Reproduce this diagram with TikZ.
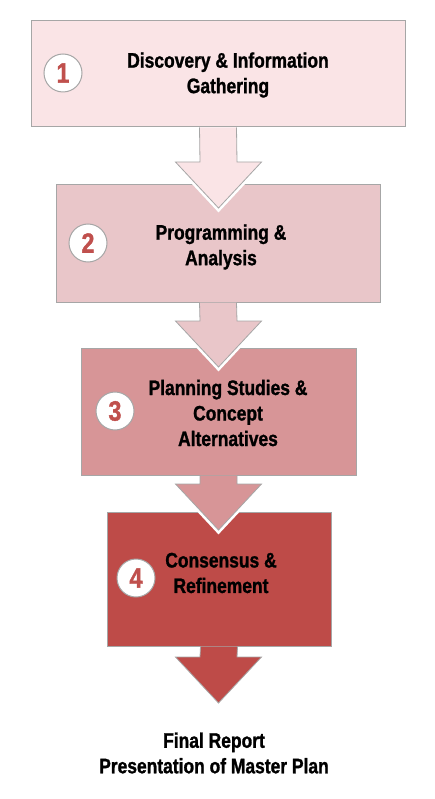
\documentclass[tikz,border=0pt]{standalone}
\usepackage{fontspec}
\setmainfont{Liberation Sans}
\newfontfamily\stepfont{Liberation Sans Bold}[FakeStretch=0.83, FakeBold=1.2]
\usetikzlibrary{calc}
\definecolor{stepone}{HTML}{FAE4E6}
\definecolor{steptwo}{HTML}{E9C6C9}
\definecolor{stepthree}{HTML}{D79597}
\definecolor{stepfour}{HTML}{BE4B48}
\definecolor{boxgray}{HTML}{A6A6A6}
\definecolor{numred}{HTML}{C0504D}
\newcommand{\blockarrow}[3]{%
  \draw[white, line width=6pt, line join=miter]
    ($(#2)+(-43,-46)$) -- (#2) -- ($(#2)+(43,-46)$);
  \path[flow, fill=#3] ($(#1.south)+(-18.5,0)$) -- ($(#2)+(-18.5,-46)$)
    -- ($(#2)+(-43,-46)$) -- (#2) -- ($(#2)+(43,-46)$)
    -- ($(#2)+(18.5,-46)$) -- ($(#1.south)+(18.5,0)$);}
\begin{document}
\begin{tikzpicture}[x=1pt,y=-1pt,
    stepbox/.style={draw=boxgray, line width=1pt, inner sep=0pt},
    badge/.style={circle, draw=boxgray, fill=white, line width=1pt, minimum size=38pt,
      inner sep=0pt, text=numred, font=\stepfont\fontsize{28}{28}\selectfont},
    steptext/.style={align=center, font=\stepfont\fontsize{21}{25.5}\selectfont},
    flow/.style={draw=boxgray, line width=0.8pt, line join=miter}]
            \useasboundingbox (0,0) rectangle (434,799);
            \node[stepbox, fill=stepone, minimum width=374pt, minimum height=106pt] (b1) at (218,74) {};
            \node[stepbox, fill=steptwo, minimum width=324pt, minimum height=117pt] (b2) at (218,243.5) {};
            \coordinate (tip1) at (218.5,208);
            \blockarrow{b1}{tip1}{stepone}
            \node[stepbox, fill=stepthree, minimum width=275pt, minimum height=127pt] (b3) at (218.5,411.5) {};
            \coordinate (tip2) at (218.5,367);
            \blockarrow{b2}{tip2}{steptwo}
            \node[stepbox, fill=stepfour, minimum width=224pt, minimum height=134pt] (b4) at (219,579) {};
            \coordinate (tip3) at (218.5,530);
            \blockarrow{b3}{tip3}{stepthree}
            \coordinate (tip4) at (218.5,703);
            \blockarrow{b4}{tip4}{stepfour}
            \node[badge] (n1) at (63,73) {1};
            \node[badge] (n2) at (88,243) {2};
            \node[badge] (n3) at (115,411) {3};
            \node[badge] (n4) at (136,578) {4};
            \node[steptext] (t1) at (228,75) {Discovery \& Information\\Gathering};
            \node[steptext] (t2) at (221,247) {Programming \&\\Analysis};
            \node[steptext] (t3) at (228,413) {Planning Studies \&\\Concept\\Alternatives};
            \node[steptext] (t4) at (221,573) {Consensus \&\\Refinement};
            \node[steptext] (final) at (214,753) {Final Report\\Presentation of Master Plan};
        \end{tikzpicture}
\end{document}
